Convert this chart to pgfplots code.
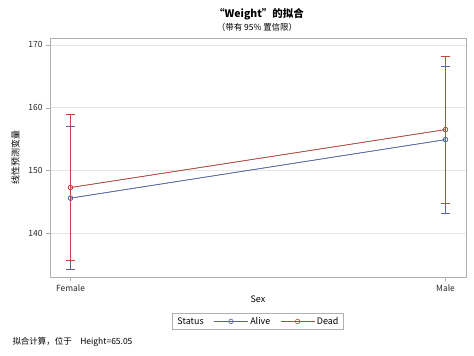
\documentclass[border=0pt]{standalone}
\usepackage{pgfplots}
\pgfplotsset{compat=1.18}
\usepackage{fontspec}
\setmainfont{Noto Sans CJK SC}
\definecolor{cAlive}{HTML}{5366A0}
\definecolor{cDead}{HTML}{B04A42}
\definecolor{cDeadBar}{HTML}{C8443C}
\definecolor{cFrame}{HTML}{B0B0B0}
\definecolor{cGrid}{HTML}{E6E6E6}
\begin{document}
\begin{tikzpicture}[x=1bp,y=1bp]
\path[use as bounding box] (0,0) rectangle (474,355);
\begin{axis}[
  at={(50bp,78bp)}, anchor=south west,
  scale only axis, width=416bp, height=239bp,
  xmin=-0.05467, xmax=1.05467, ymin=133.0, ymax=171.1,
  xtick={0,1}, xticklabels={Female,Male},
  ytick={140,150,160,170},
  ymajorgrids, grid style={cGrid, line width=0.6pt},
  axis line style={cFrame, line width=0.8pt},
  tick style={cFrame}, major tick length=4bp,
  tick align=outside, xtick pos=bottom, ytick pos=left,
  tick label style={font=\fontsize{8.5}{10}\selectfont, text=black!85},
  /pgf/number format/assume math mode=true,
  xlabel={Sex}, xlabel style={font=\fontsize{9}{10}\selectfont, yshift=2bp},
  ylabel={线性预测变量}, ylabel style={font=\fontsize{9}{10}\selectfont, yshift=2bp},
  legend columns=3,
  legend style={at={(0.5,-0.186)}, anchor=center, draw=cFrame, line width=0.6pt,
    font=\fontsize{9}{10}\selectfont, inner xsep=3bp, inner ysep=1.5bp,
    /tikz/every even column/.append style={column sep=8bp}},
  legend cell align=left,
  legend image code/.code={\draw[mark repeat=2, mark phase=2] plot coordinates {(0bp,0bp) (17bp,0bp) (34bp,0bp)};},
  clip=false,
]
\addlegendimage{empty legend}
\addlegendentry{Status}
\addplot[cAlive, line width=0.6pt, mark=o, mark size=2.3bp, mark options={solid, fill=white}]
  coordinates {(0,145.57) (1,154.9)};
\addlegendentry{Alive}
\addplot[cDead, line width=0.6pt, mark=o, mark size=2.3bp, mark options={solid, fill=white}]
  coordinates {(0,147.26) (1,156.5)};
\addlegendentry{Dead}
% CI bars Dead (full)
\addplot[cDeadBar, line width=1.2bp, mark=-, mark size=4.5bp, mark options={line width=0.9bp}, forget plot] coordinates {(0,135.6) (0,158.9)};
\addplot[cDeadBar, line width=1.2bp, mark=-, mark size=4.5bp, mark options={line width=0.9bp}, forget plot] coordinates {(1,144.8) (1,168.2)};
% CI bars Alive: visible lower part of the bar, and caps
\addplot[cAlive, line width=1.2bp, forget plot] coordinates {(0,134.16) (0,135.6)};
\addplot[cAlive, line width=1.2bp, forget plot] coordinates {(1,143.2) (1,144.8)};
\addplot[cAlive, only marks, mark=-, mark size=4.5bp, mark options={line width=0.9bp}, forget plot]
  coordinates {(0,134.16) (0,156.97) (1,143.2) (1,166.5)};
% means on top
\addplot[cAlive, line width=0.6pt, mark=o, mark size=2.3bp, forget plot, mark options={fill=white}]
  coordinates {(0,145.57) (1,154.9)};
\addplot[cDead, line width=0.6pt, mark=o, mark size=2.3bp, forget plot, mark options={fill=white}]
  coordinates {(0,147.26) (1,156.5)};
\end{axis}
\node[font=\fontsize{10.5}{12}\selectfont\bfseries] at (259,341) {“Weight”的拟合};
\node[font=\fontsize{8.5}{10}\selectfont] at (257,328) {（带有 95\% 置信限）};
\node[anchor=west, font=\fontsize{8.5}{10}\selectfont] at (9,13) {拟合计算，位于\quad Height=65.05};
\end{tikzpicture}
\end{document}
